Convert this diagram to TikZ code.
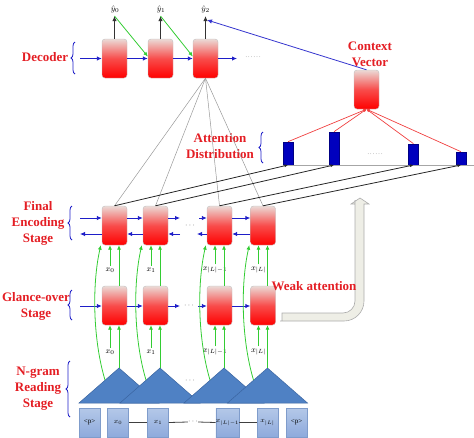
\documentclass[tikz,border=0pt]{standalone}
\usepackage{fontspec}
\setmainfont{Liberation Serif}
\usetikzlibrary{arrows.meta,decorations.pathreplacing,calc}
\definecolor{lblred}{HTML}{E41E24}
\definecolor{arrblue}{HTML}{1E1EC8}
\definecolor{grn}{HTML}{33CC33}
\definecolor{boxtop}{HTML}{EBDAD6}
\definecolor{trifill}{HTML}{4F81C4}
\definecolor{tridraw}{HTML}{3A64A0}
\definecolor{toktop}{HTML}{B4C8E8}
\definecolor{tokbot}{HTML}{8EAADC}
\definecolor{tokd}{HTML}{7F9CCB}
\definecolor{barblue}{HTML}{0000BE}
\definecolor{bigarr}{HTML}{EEEEE6}
\definecolor{redline}{HTML}{F04040}
\tikzset{
  cell/.style={draw=gray!50, rounded corners=3pt, minimum width=25pt, minimum height=39pt, inner sep=0pt,
    top color=boxtop, bottom color=red, middle color=red!65!boxtop},
  lbl/.style={text=lblred, font=\fontsize{13}{16}\selectfont\bfseries, align=center},
  barrow/.style={arrblue, line width=0.9pt, -{Latex[length=5pt,width=4.5pt]}},
  garrow/.style={grn, line width=0.8pt, -{Latex[length=4.5pt,width=4pt]}},
  karrow/.style={black!80, line width=1.1pt, -{Latex[length=5pt,width=4.5pt]}},
  blkline/.style={black!85, line width=0.8pt, -{Latex[length=3.5pt,width=3pt]}},
  redarrow/.style={redline, line width=0.7pt, -{Latex[length=3pt,width=3pt]}},
  fanline/.style={gray!80, line width=0.5pt},
  brc/.style={arrblue, line width=0.8pt, decorate, decoration={brace, amplitude=4pt}},
  attbar/.style={fill=barblue, draw=barblue!70!black, line width=0.3pt, minimum width=10pt, inner sep=0pt, anchor=south},
  tokbox/.style={draw=tokd, line width=0.5pt, top color=toktop, bottom color=tokbot, minimum width=21pt, minimum height=29pt, inner sep=0pt, font=\fontsize{7}{8}\selectfont},
  tokline/.style={black!75, line width=0.8pt},
  xlab/.style={font=\fontsize{8}{9}\selectfont, inner sep=1pt},
  dotsn/.style={text=gray, font=\fontsize{6}{7}\selectfont, inner sep=0pt},
  tri/.style={fill=trifill, draw=tridraw, line width=0.5pt}
}
\newcommand{\sixdots}{.\kern1.2pt.\kern1.2pt.\kern1.2pt.\kern1.2pt.\kern1.2pt.}
\begin{document}
\begin{tikzpicture}[x=1pt,y=-1pt]
\useasboundingbox (0,0) rectangle (474,437);

% big gray arrow
\filldraw[fill=bigarr, draw=gray!65, line width=0.6pt]
  (282,313) [rounded corners=12pt] -- (355,313) -- (355,212) [sharp corners] -- (355,204) -- (351,204) -- (360,198) -- (369,204) -- (364,204) -- (364,212) [rounded corners=20pt] -- (364,321) -- (300,321) [sharp corners] -- (282,321) -- cycle;

% triangles
\coordinate (t1) at (119,368);
\coordinate (t2) at (160,368);
\coordinate (t3) at (224,368);
\coordinate (t4) at (267.5,368);
\foreach \t in {t1,t2,t3,t4}{
  \filldraw[tri] (\t) -- ++(40,35) -- ++(-80,0) -- cycle;
}
\node[dotsn, text=black!70, font=\fontsize{8}{9}\selectfont] (dtri) at (190,381) {$\cdots$};

% tokens
\node[tokbox] (k0) at (89.5,422.5) {\textless p\textgreater};
\node[tokbox] (k1) at (118,422.5) {$x_0$};
\node[tokbox] (k2) at (158,422.5) {$x_1$};
\node[tokbox] (k3) at (227.5,422.5) {$x_{|L|-1}$};
\node[tokbox] (k4) at (267.5,422.5) {$x_{|L|}$};
\node[tokbox] (k5) at (296.5,422.5) {\textless p\textgreater};
\node[dotsn, text=black!70, font=\fontsize{8}{9}\selectfont] (dtok) at (193,422) {$\cdots$};
\draw[tokline] (k1.east) -- (k2.west);
\draw[tokline] (k2.east) -- (dtok.west);
\draw[tokline] (dtok.east) -- (k3.west);
\draw[tokline] (k3.east) -- (k4.west);

% cells
\node[cell] (d1) at (114.5,58.5) {};
\node[cell] (d2) at (160.5,58.5) {};
\node[cell] (d3) at (205.5,58.5) {};
\node[cell] (ctx) at (366.5,89.5) {};
\node[cell] (e1) at (114.5,225.5) {};
\node[cell] (e2) at (155.5,225.5) {};
\node[cell] (e3) at (219.5,225.5) {};
\node[cell] (e4) at (263,225.5) {};
\node[cell] (g1) at (114.5,305.5) {};
\node[cell] (g2) at (155.5,305.5) {};
\node[cell] (g3) at (219.5,305.5) {};
\node[cell] (g4) at (263,305.5) {};

% labels
\node[lbl] (ldec) at (45,57) {Decoder};
\node[lbl] (lctx) at (370,54.5) {Context\\Vector};
\node[lbl] (latt) at (220,146.5) {Attention\\Distribution};
\node[lbl] (lfin) at (38,223) {Final\\Encoding\\Stage};
\node[lbl] (lgl) at (36,306) {Glance-over\\Stage};
\node[lbl] (lng) at (38,389) {N-gram\\Reading\\Stage};
\node[lbl] (lweak) at (314,286) {Weak attention};

% braces
\draw[brc] (75,74) -- (75,42);
\draw[brc] (72,240) -- (72,206);
\draw[brc] (72,320) -- (72,290);
\draw[brc] (70,417) -- (70,361);
\draw[brc] (263,163) -- (263,132);

% decoder outputs
\node[xlab] (y0) at (115,9) {$\hat{y}_0$};
\node[xlab] (y1) at (161,9) {$\hat{y}_1$};
\node[xlab] (y2) at (205.5,9) {$\hat{y}_2$};
\coordinate (y0b) at (114.5,16);
\coordinate (y1b) at (160.5,16);
\coordinate (y2b) at (205.5,16);
\draw[karrow] (d1.north) -- (y0b);
\draw[karrow] (d2.north) -- (y1b);
\draw[karrow] (d3.north) -- (y2b);
\draw[garrow] (y0b) -- ([yshift=2pt]d2.west);
\draw[garrow] (y1b) -- ([yshift=2pt]d3.west);

% decoder chain
\coordinate (din) at (80,58.5);
\coordinate (dout) at (237,58.5);
\draw[barrow] (din) -- (d1.west);
\draw[barrow] (d1.east) -- (d2.west);
\draw[barrow] (d2.east) -- (d3.west);
\draw[barrow] (d3.east) -- (dout);
\node[dotsn] (ddec) at (253,57.5) {\sixdots};

% context to decoder
\coordinate (ctxend) at (207,20);
\draw[arrblue!90, line width=0.8pt, -{Latex[length=5pt,width=4.5pt]}] (ctx.north) -- (ctxend);

% attention bars
\node[attbar, minimum height=23pt] (b1) at (288,165) {};
\node[attbar, minimum height=33pt] (b2) at (334,165) {};
\node[attbar, minimum height=21pt] (b3) at (413.5,165) {};
\node[attbar, minimum height=13pt] (b4) at (461,165) {};
\coordinate (baseend) at (474,165);
\draw[gray!70, line width=0.8pt] (b1.south west) -- (baseend);
\node[dotsn] (datt) at (375,154) {\sixdots};
\foreach \b in {b1,b2,b3,b4}{ \draw[redarrow] (\b.north) -- (ctx.south); }

% fan from decoder to encoder
\foreach \e in {e1,e2,e3,e4}{ \draw[fanline] (d3.south) -- (\e.north); }
\draw[blkline] (e1.north) -- (b1.south);
\draw[blkline] (e2.north) -- (b2.south);
\draw[blkline] (e3.north) -- (b3.south);
\draw[blkline] (e4.north) -- (b4.south);

% final encoding chain
\coordinate (fin) at (80,218);
\coordinate (bout) at (80,234);
\coordinate (fa) at (180,218);
\coordinate (fb) at (199,218);
\coordinate (ba) at (180,234);
\coordinate (bb) at (197,234);
\draw[barrow] (fin) -- (e1.west |- fin);
\draw[barrow] (e1.east |- fin) -- (e2.west |- fin);
\draw[barrow] (e2.east |- fin) -- (fa);
\draw[barrow] (fb) -- (e3.west |- fb);
\draw[barrow] (e3.east |- fin) -- (e4.west |- fin);
\draw[barrow] (e1.west |- bout) -- (bout);
\draw[barrow] (e2.west |- bout) -- (e1.east |- bout);
\draw[barrow] (ba) -- (e2.east |- ba);
\draw[barrow] (e3.west |- bb) -- (bb);
\draw[barrow] (e4.west |- bout) -- (e3.east |- bout);
\node[dotsn, text=black!70, font=\fontsize{8}{9}\selectfont] (denc) at (190,226) {$\cdots$};

% glance chain
\coordinate (gin) at (80,306);
\coordinate (ga) at (180,306);
\coordinate (gb) at (198,306);
\draw[barrow] (gin) -- (g1.west |- gin);
\draw[barrow] (g1.east |- gin) -- (g2.west |- gin);
\draw[barrow] (g2.east |- gin) -- (ga);
\draw[barrow] (gb) -- (g3.west |- gb);
\draw[barrow] (g3.east |- gin) -- (g4.west |- gin);
\node[dotsn, text=black!70, font=\fontsize{8}{9}\selectfont] (dgl) at (189,306) {$\cdots$};

% x labels between glance and encoding
\node[xlab] (xe1) at (110,270) {$x_0$};
\node[xlab] (xe2) at (151,270) {$x_1$};
\node[xlab] (xe3) at (215,270) {$x_{|L|-1}$};
\node[xlab] (xe4) at (258.5,270) {$x_{|L|}$};
\foreach \i in {1,2,3,4}{
  \draw[garrow] ([yshift=1pt]xe\i.north) -- (xe\i.north |- e\i.south);
}
% x labels between ngram and glance
\node[xlab] (xg1) at (110,352) {$x_0$};
\node[xlab] (xg2) at (151,352) {$x_1$};
\node[xlab] (xg3) at (215,352) {$x_{|L|-1}$};
\node[xlab] (xg4) at (258.5,352) {$x_{|L|}$};
\foreach \i in {1,2,3,4}{
  \draw[garrow] ([yshift=1pt]xg\i.north) -- (xg\i.north |- g\i.south);
}
% long arrows
\foreach \i in {1,2,3,4}{
  \draw[garrow] (t\i) -- (t\i |- g\i.south);
  \draw[garrow] (t\i |- g\i.north) -- (t\i |- e\i.south);
}
% curved arrows
\foreach \i in {1,2,3,4}{
  \coordinate (cs\i) at ($(t\i)+(-14,12)$);
  \draw[garrow] (cs\i) .. controls +(-12,-40) and +(-9,40) .. ([xshift=-1pt]e\i.south west);
}
\end{tikzpicture}
\end{document}
